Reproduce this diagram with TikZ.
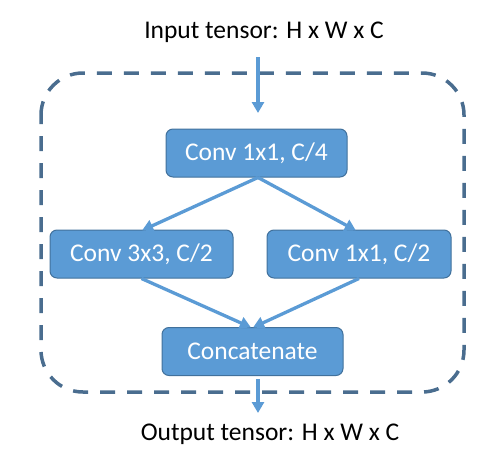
\documentclass[tikz,border=0pt]{standalone}
\usepackage{fontspec}
\setmainfont{Carlito}
\usetikzlibrary{arrows.meta}
\definecolor{boxfill}{HTML}{5B9BD5}
\definecolor{boxline}{HTML}{41719C}
\definecolor{dashcol}{HTML}{4A6D8F}
\tikzset{
  opbox/.style={draw=boxline, line width=1pt, fill=boxfill, rounded corners=7pt, text=white, font=\fontsize{25.5}{30}\selectfont, minimum width=#1, minimum height=48pt, inner sep=0pt},
  conn/.style={draw=boxfill, line width=3.3pt, -{Triangle[length=11pt,width=12pt]}, shorten >=-1pt},
  lbl/.style={font=\fontsize{25.5}{30}\selectfont, text=black, inner sep=0pt},
  frame/.style={draw=dashcol, line width=3.5pt, dash pattern=on 15pt off 12pt, dash phase=6pt, rounded corners=42pt}
}
\begin{document}
\begin{tikzpicture}[x=1pt,y=-1pt]
\useasboundingbox (0,0) rectangle (493,463);
\draw[frame] (41,73) rectangle (464,392);
\node[lbl] (in) at (264,32) {Input tensor: H x W x C};
\node[lbl] (out) at (270,434) {Output tensor: H x W x C};
\node[opbox=181pt] (c1) at (256.5,153) {Conv 1x1, C/4};
\node[opbox=183pt] (c3) at (141.5,254) {Conv 3x3, C/2};
\node[opbox=184pt] (c2) at (359,254) {Conv 1x1, C/2};
\node[opbox=181pt] (cat) at (252.5,351.5) {Concatenate};
\coordinate (inTop) at (258,57);
\coordinate (c1in) at (258,112);
\coordinate (outEnd) at (258,412);
\draw[conn] (inTop) -- (c1in);
\draw[conn] (c1.south) ++(1.5,0) coordinate (c1b) -- (143,230) coordinate (c3t);
\draw[conn] (c1b) -- (355,230) coordinate (c2t);
\draw[conn] (c3.south) -- (250,327) coordinate (catl);
\draw[conn] (c2.south) -- (254,327) coordinate (catr);
\draw[conn] (cat.south) ++(5.5,3) -- (outEnd);
\end{tikzpicture}
\end{document}
